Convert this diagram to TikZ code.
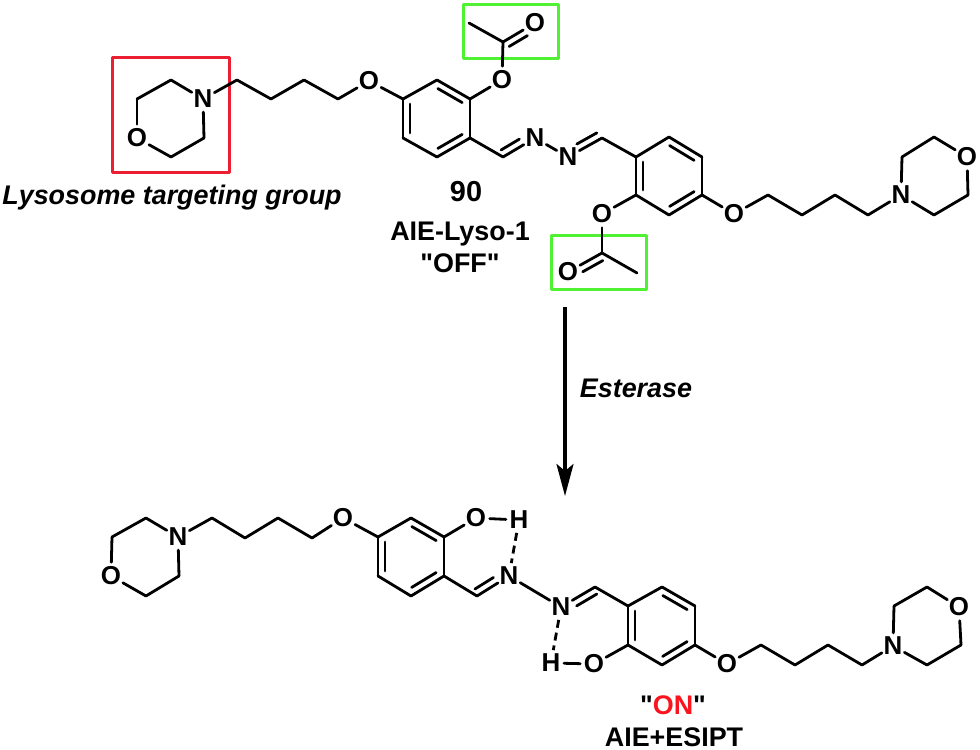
\documentclass[tikz,border=0pt]{standalone}
\usepackage{fontspec}
\setmainfont{Liberation Sans}
\usetikzlibrary{calc,arrows.meta}
\definecolor{boxred}{RGB}{235,30,50}
\definecolor{boxgreen}{RGB}{80,240,50}
\definecolor{onred}{RGB}{250,20,30}
\tikzset{
  atom/.style={circle,inner sep=0pt,font=\fontsize{26}{30}\selectfont\bfseries},
  bond/.style={black,line width=2.8bp,line cap=round},
  hbond/.style={black,line width=2.8bp,dash pattern=on 8bp off 5bp},
  tag/.style={draw=none,align=center,font=\fontsize{27}{32}\selectfont\bfseries},
  tagit/.style={tag,font=\fontsize{27}{32}\selectfont\bfseries\itshape},
  groupbox/.style={line width=3bp,fill=none},
}
\newcommand{\dblbond}[4]{\draw [bond,shorten <=#3bp,shorten >=#4bp] ($(#1)!7bp!90:(#2)$) -- ($(#2)!7bp!-90:(#1)$);}
\begin{document}
\begin{tikzpicture}[>=latex,line join=bevel,]
\useasboundingbox (0bp,0bp) rectangle (980bp,750bp);
%% group boxes
\node (box_lyso) at (170.5bp,634.5bp) [draw=boxred,groupbox,minimum width=117bp,minimum height=115bp,inner sep=0pt] {};
\node (box_ac1) at (510.5bp,718bp) [draw=boxgreen,groupbox,minimum width=95bp,minimum height=54bp,inner sep=0pt] {};
\node (box_ac2) at (598.5bp,487bp) [draw=boxgreen,groupbox,minimum width=95bp,minimum height=54bp,inner sep=0pt] {};
%% top molecule, left half
\node (t_n1) at (203.0bp,651.0bp) [atom] {N};
\node (t_o1) at (137.0bp,612.0bp) [atom] {O};
\node (t_o2) at (369.0bp,669.0bp) [atom] {O};
\node (t_o3) at (502.0bp,670.0bp) [atom] {O};
\node (t_o4) at (535.0bp,727.0bp) [atom] {O};
\node (t_n2) at (535.0bp,612.0bp) [atom] {N};
\coordinate (t_c1) at (171.0bp,670.0bp);
\coordinate (t_c2) at (137.0bp,651.0bp);
\coordinate (t_c3) at (171.0bp,593.0bp);
\coordinate (t_c4) at (204.0bp,612.0bp);
\coordinate (t_c5) at (237.0bp,670.0bp);
\coordinate (t_c6) at (271.0bp,651.0bp);
\coordinate (t_c7) at (304.0bp,670.0bp);
\coordinate (t_c8) at (338.0bp,651.0bp);
\coordinate (t_r1) at (403.0bp,651.0bp);
\coordinate (t_r2) at (437.0bp,670.0bp);
\coordinate (t_r3) at (470.0bp,651.0bp);
\coordinate (t_r4) at (470.0bp,612.0bp);
\coordinate (t_r5) at (437.0bp,593.0bp);
\coordinate (t_r6) at (403.0bp,612.0bp);
\coordinate (t_c9) at (503.0bp,708.0bp);
\coordinate (t_me1) at (469.0bp,727.0bp);
\coordinate (t_c10) at (503.0bp,593.0bp);
\draw [bond] (t_n1) -- (t_c1);
\draw [bond] (t_c1) -- (t_c2);
\draw [bond] (t_c2) -- (t_o1);
\draw [bond] (t_o1) -- (t_c3);
\draw [bond] (t_c3) -- (t_c4);
\draw [bond] (t_c4) -- (t_n1);
\draw [bond] (t_n1) -- (t_c5);
\draw [bond] (t_c5) -- (t_c6);
\draw [bond] (t_c6) -- (t_c7);
\draw [bond] (t_c7) -- (t_c8);
\draw [bond] (t_c8) -- (t_o2);
\draw [bond] (t_o2) -- (t_r1);
\draw [bond] (t_r1) -- (t_r2);
\draw [bond] (t_r2) -- (t_r3);
\draw [bond] (t_r3) -- (t_r4);
\draw [bond] (t_r4) -- (t_r5);
\draw [bond] (t_r5) -- (t_r6);
\draw [bond] (t_r6) -- (t_r1);
\dblbond{t_r1}{t_r6}{5}{5}
\dblbond{t_r3}{t_r2}{5}{5}
\dblbond{t_r5}{t_r4}{5}{5}
\draw [bond] (t_r3) -- (t_o3);
\draw [bond] (t_o3) -- (t_c9);
\draw [bond] (t_c9) -- (t_me1);
\draw [bond] (t_c9) -- (t_o4);
\dblbond{t_o4}{t_c9}{13}{3}
\draw [bond] (t_r4) -- (t_c10);
\draw [bond] (t_c10) -- (t_n2);
\dblbond{t_c10}{t_n2}{2}{14}
%% top molecule, right half
\node (t_n3) at (568.0bp,593.0bp) [atom] {N};
\node (t_o5) at (602.0bp,536.0bp) [atom] {O};
\node (t_o6) at (568.0bp,478.0bp) [atom] {O};
\node (t_o7) at (734.0bp,536.0bp) [atom] {O};
\node (t_n4) at (901.0bp,555.0bp) [atom] {N};
\node (t_o8) at (967.0bp,593.0bp) [atom] {O};
\coordinate (t_c11) at (602.0bp,612.0bp);
\coordinate (t_q1) at (636.0bp,593.0bp);
\coordinate (t_q2) at (669.0bp,613.0bp);
\coordinate (t_q3) at (702.0bp,593.0bp);
\coordinate (t_q4) at (702.0bp,555.0bp);
\coordinate (t_q5) at (669.0bp,535.0bp);
\coordinate (t_q6) at (636.0bp,555.0bp);
\coordinate (t_c12) at (602.0bp,497.0bp);
\coordinate (t_me2) at (637.0bp,477.0bp);
\coordinate (t_c13) at (768.0bp,555.0bp);
\coordinate (t_c14) at (802.0bp,535.0bp);
\coordinate (t_c15) at (835.0bp,555.0bp);
\coordinate (t_c16) at (868.0bp,535.0bp);
\coordinate (t_m1) at (902.0bp,593.0bp);
\coordinate (t_m2) at (934.0bp,613.0bp);
\coordinate (t_m3) at (968.0bp,555.0bp);
\coordinate (t_m4) at (934.0bp,535.0bp);
\draw [bond] (t_n2) -- (t_n3);
\draw [bond] (t_n3) -- (t_c11);
\dblbond{t_n3}{t_c11}{14}{2}
\draw [bond] (t_c11) -- (t_q1);
\draw [bond] (t_q1) -- (t_q2);
\draw [bond] (t_q2) -- (t_q3);
\draw [bond] (t_q3) -- (t_q4);
\draw [bond] (t_q4) -- (t_q5);
\draw [bond] (t_q5) -- (t_q6);
\draw [bond] (t_q6) -- (t_q1);
\dblbond{t_q1}{t_q6}{5}{5}
\dblbond{t_q3}{t_q2}{5}{5}
\dblbond{t_q5}{t_q4}{5}{5}
\draw [bond] (t_q6) -- (t_o5);
\draw [bond] (t_o5) -- (t_c12);
\draw [bond] (t_c12) -- (t_o6);
\dblbond{t_c12}{t_o6}{3}{13}
\draw [bond] (t_c12) -- (t_me2);
\draw [bond] (t_q4) -- (t_o7);
\draw [bond] (t_o7) -- (t_c13);
\draw [bond] (t_c13) -- (t_c14);
\draw [bond] (t_c14) -- (t_c15);
\draw [bond] (t_c15) -- (t_c16);
\draw [bond] (t_c16) -- (t_n4);
\draw [bond] (t_n4) -- (t_m1);
\draw [bond] (t_m1) -- (t_m2);
\draw [bond] (t_m2) -- (t_o8);
\draw [bond] (t_o8) -- (t_m3);
\draw [bond] (t_m3) -- (t_m4);
\draw [bond] (t_m4) -- (t_n4);
%% bottom molecule, left half
\node (b_n1) at (178.0bp,213.0bp) [atom] {N};
\node (b_o1) at (111.0bp,174.0bp) [atom] {O};
\node (b_o2) at (343.0bp,232.0bp) [atom] {O};
\node (b_o3) at (476.0bp,232.0bp) [atom] {O};
\node (b_h1) at (519.0bp,230.0bp) [atom] {H};
\node (b_n2) at (509.0bp,174.0bp) [atom] {N};
\coordinate (b_c1) at (146.0bp,232.0bp);
\coordinate (b_c2) at (112.0bp,213.0bp);
\coordinate (b_c3) at (146.0bp,154.0bp);
\coordinate (b_c4) at (179.0bp,174.0bp);
\coordinate (b_c5) at (212.0bp,232.0bp);
\coordinate (b_c6) at (245.0bp,212.0bp);
\coordinate (b_c7) at (278.0bp,232.0bp);
\coordinate (b_c8) at (312.0bp,212.0bp);
\coordinate (b_r1) at (378.0bp,213.0bp);
\coordinate (b_r2) at (411.0bp,232.0bp);
\coordinate (b_r3) at (444.0bp,213.0bp);
\coordinate (b_r4) at (444.0bp,174.0bp);
\coordinate (b_r5) at (411.0bp,154.0bp);
\coordinate (b_r6) at (378.0bp,174.0bp);
\coordinate (b_c10) at (477.0bp,154.0bp);
\draw [bond] (b_n1) -- (b_c1);
\draw [bond] (b_c1) -- (b_c2);
\draw [bond] (b_c2) -- (b_o1);
\draw [bond] (b_o1) -- (b_c3);
\draw [bond] (b_c3) -- (b_c4);
\draw [bond] (b_c4) -- (b_n1);
\draw [bond] (b_n1) -- (b_c5);
\draw [bond] (b_c5) -- (b_c6);
\draw [bond] (b_c6) -- (b_c7);
\draw [bond] (b_c7) -- (b_c8);
\draw [bond] (b_c8) -- (b_o2);
\draw [bond] (b_o2) -- (b_r1);
\draw [bond] (b_r1) -- (b_r2);
\draw [bond] (b_r2) -- (b_r3);
\draw [bond] (b_r3) -- (b_r4);
\draw [bond] (b_r4) -- (b_r5);
\draw [bond] (b_r5) -- (b_r6);
\draw [bond] (b_r6) -- (b_r1);
\dblbond{b_r1}{b_r6}{5}{5}
\dblbond{b_r3}{b_r2}{5}{5}
\dblbond{b_r5}{b_r4}{5}{5}
\draw [bond] (b_r3) -- (b_o3);
\draw [bond] (b_o3) -- (b_h1);
\draw [hbond] (b_h1) -- (b_n2);
\draw [bond] (b_r4) -- (b_c10);
\draw [bond] (b_c10) -- (b_n2);
\dblbond{b_c10}{b_n2}{2}{14}
%% bottom molecule, right half
\node (b_n3) at (561.0bp,143.0bp) [atom] {N};
\node (b_h2) at (551.0bp,87.0bp) [atom] {H};
\node (b_o5) at (594.0bp,86.0bp) [atom] {O};
\node (b_o7) at (727.0bp,86.0bp) [atom] {O};
\node (b_n4) at (893.0bp,104.0bp) [atom] {N};
\node (b_o8) at (959.0bp,143.0bp) [atom] {O};
\coordinate (b_c11) at (595.0bp,163.0bp);
\coordinate (b_q1) at (628.0bp,144.0bp);
\coordinate (b_q2) at (662.0bp,163.0bp);
\coordinate (b_q3) at (695.0bp,144.0bp);
\coordinate (b_q4) at (695.0bp,105.0bp);
\coordinate (b_q5) at (662.0bp,85.0bp);
\coordinate (b_q6) at (628.0bp,105.0bp);
\coordinate (b_c13) at (761.0bp,105.0bp);
\coordinate (b_c14) at (795.0bp,85.0bp);
\coordinate (b_c15) at (828.0bp,105.0bp);
\coordinate (b_c16) at (862.0bp,85.0bp);
\coordinate (b_m1) at (894.0bp,144.0bp);
\coordinate (b_m2) at (927.0bp,163.0bp);
\coordinate (b_m3) at (961.0bp,105.0bp);
\coordinate (b_m4) at (927.0bp,85.0bp);
\draw [bond] (b_n2) -- (b_n3);
\draw [hbond] (b_n3) -- (b_h2);
\draw [bond] (b_h2) -- (b_o5);
\draw [bond] (b_n3) -- (b_c11);
\dblbond{b_c11}{b_n3}{2}{14}
\draw [bond] (b_c11) -- (b_q1);
\draw [bond] (b_q1) -- (b_q2);
\draw [bond] (b_q2) -- (b_q3);
\draw [bond] (b_q3) -- (b_q4);
\draw [bond] (b_q4) -- (b_q5);
\draw [bond] (b_q5) -- (b_q6);
\draw [bond] (b_q6) -- (b_q1);
\dblbond{b_q1}{b_q6}{5}{5}
\dblbond{b_q3}{b_q2}{5}{5}
\dblbond{b_q5}{b_q4}{5}{5}
\draw [bond] (b_q6) -- (b_o5);
\draw [bond] (b_q4) -- (b_o7);
\draw [bond] (b_o7) -- (b_c13);
\draw [bond] (b_c13) -- (b_c14);
\draw [bond] (b_c14) -- (b_c15);
\draw [bond] (b_c15) -- (b_c16);
\draw [bond] (b_c16) -- (b_n4);
\draw [bond] (b_n4) -- (b_m1);
\draw [bond] (b_m1) -- (b_m2);
\draw [bond] (b_m2) -- (b_o8);
\draw [bond] (b_o8) -- (b_m3);
\draw [bond] (b_m3) -- (b_m4);
\draw [bond] (b_m4) -- (b_n4);
%% reaction arrow and labels
\coordinate (arrow_top) at (565.0bp,443.0bp);
\coordinate (arrow_tip) at (565.0bp,254.0bp);
\draw [black,line width=3.2bp,-{Stealth[length=32bp,width=17bp,inset=7bp]}] (arrow_top) -- (arrow_tip);
\node (lbl_esterase) at (636.0bp,362.0bp) [tagit] {Esterase};
\node (lbl_lyso) at (172.0bp,552.0bp) [tagit] {Lysosome targeting group};
\node (lbl_num) at (466.0bp,558.0bp) [tag,font=\fontsize{29}{32}\selectfont\bfseries] {90};
\node (lbl_off) at (460.0bp,503.0bp) [tag] {AIE-Lyso-1\\\textquotedbl OFF\textquotedbl};
\node (lbl_on) at (673.0bp,45.0bp) [tag] {\textquotedbl\textcolor{onred}{ON}\textquotedbl};
\node (lbl_esipt) at (674.0bp,13.0bp) [tag] {AIE+ESIPT};
%
\end{tikzpicture}
\end{document}
